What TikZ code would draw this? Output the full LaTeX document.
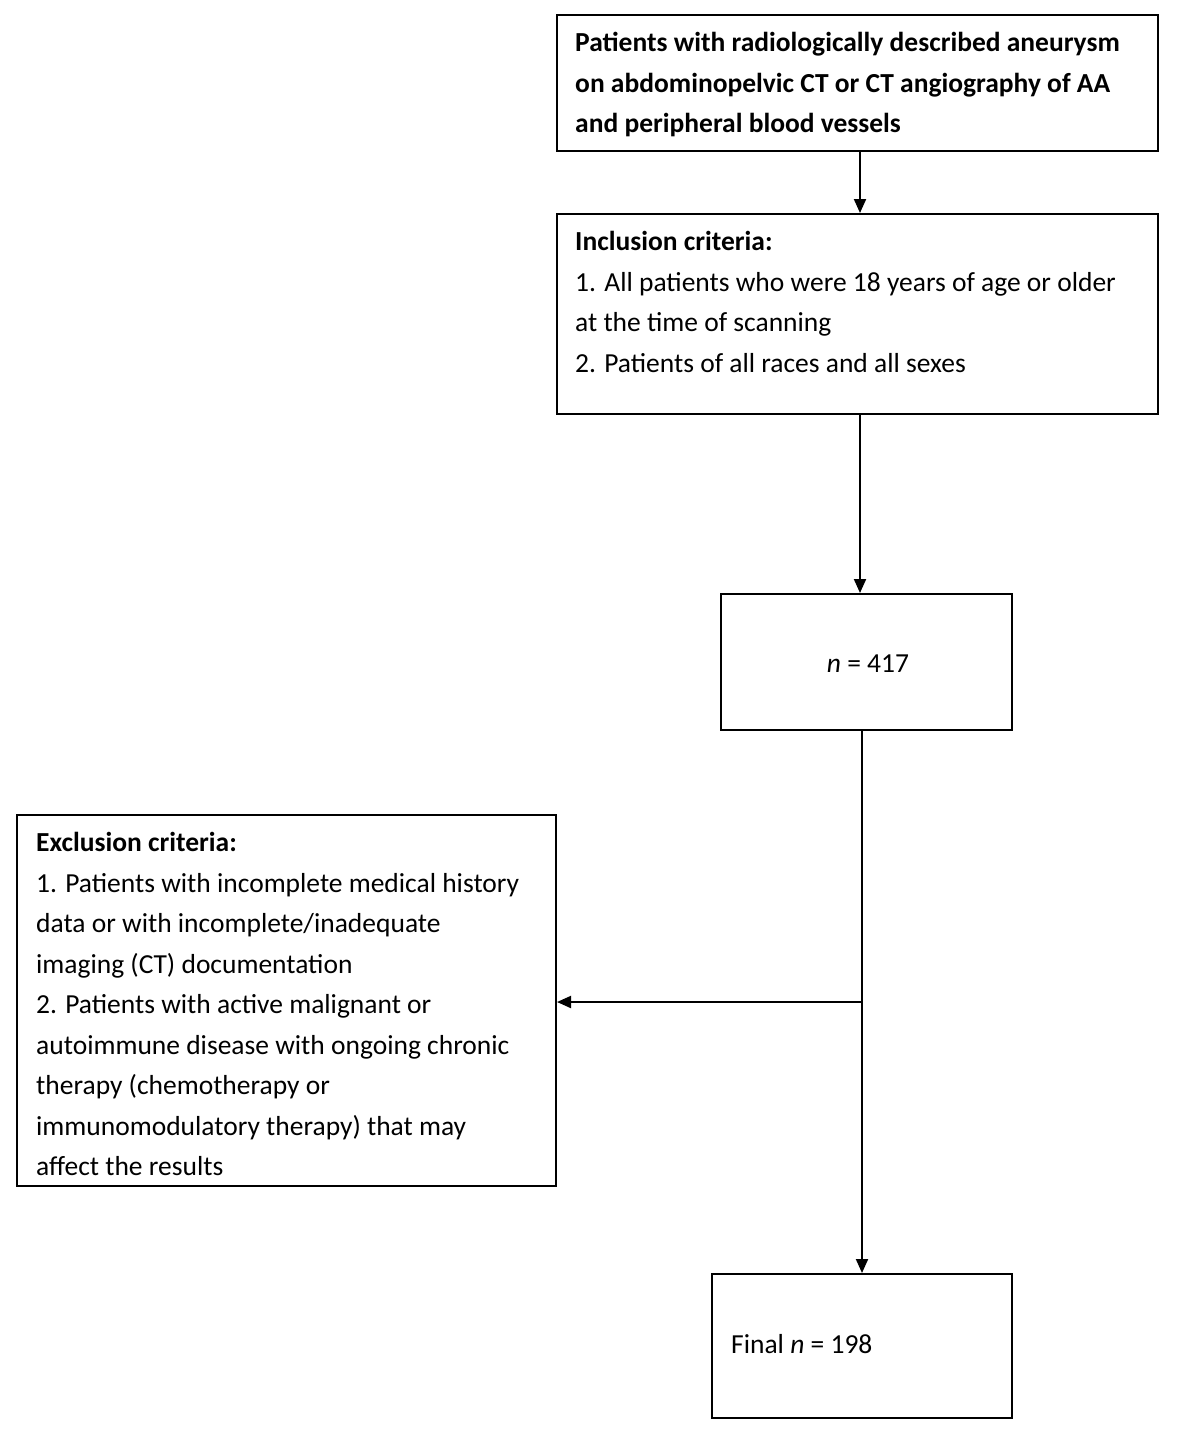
\documentclass[tikz,border=0pt]{standalone}
\usepackage{fontspec}
\setmainfont{Carlito}
\usetikzlibrary{arrows.meta}
\begin{document}
\begin{tikzpicture}[x=1pt,y=-1pt,
  box/.style={draw,line width=2pt,rectangle,inner sep=0pt},
  txt/.style={anchor=north west,inner sep=0pt,align=left,font=\fontsize{27.5}{40.5}\selectfont},
  arr/.style={line width=2pt,-{Triangle[length=14pt,width=12pt]}},
  ln/.style={line width=2pt}]
\useasboundingbox (0,0) rectangle (1176,1438);
\node[box,minimum width=601pt,minimum height=136pt] (b1) at (857.5,83) {};
\node[box,minimum width=601pt,minimum height=200pt] (b2) at (857.5,314) {};
\node[box,minimum width=291pt,minimum height=136pt] (b3) at (866.5,662) {};
\node[box,minimum width=539pt,minimum height=371pt] (b4) at (286.5,1000.5) {};
\node[box,minimum width=300pt,minimum height=144pt] (b5) at (862,1346) {};
\node[txt,font=\bfseries\fontsize{27.5}{40.5}\selectfont] (t1) at (575,32) {Patients with radiologically described aneurysm\\on abdominopelvic CT or CT angiography of AA\\and peripheral blood vessels};
\node[txt] (t2) at (575,231) {\textbf{Inclusion criteria:}\\1. All patients who were 18 years of age or older\\at the time of scanning\\2. Patients of all races and all sexes};
\node[font=\fontsize{27.5}{30}\selectfont,inner sep=0pt] (t3) at (868,664) {\textit{n} = 417};
\node[txt] (t4) at (36,832) {\textbf{Exclusion criteria:}\\1. Patients with incomplete medical history\\data or with incomplete/inadequate\\imaging (CT) documentation\\2. Patients with active malignant or\\autoimmune disease with ongoing chronic\\therapy (chemotherapy or\\immunomodulatory therapy) that may\\affect the results};
\node[font=\fontsize{27.5}{30}\selectfont,inner sep=0pt,anchor=west] (t5) at (731,1344) {Final \textit{n} = 198};
\draw[arr] (b1.south -| 860,0) -- (b2.north -| 860,0);
\draw[arr] (b2.south -| 860,0) -- (b3.north -| 860,0);
\coordinate (j) at (862,1002);
\draw[ln] (b3.south -| 862,0) -- (j);
\draw[arr] (j) -- (b5.north -| 862,0);
\draw[arr] (j) -- (b4.east |- j);
\end{tikzpicture}
\end{document}
